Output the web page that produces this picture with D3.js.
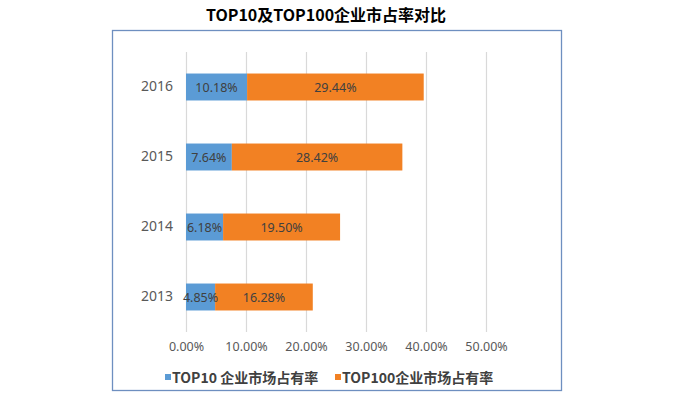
<!DOCTYPE html>
<html><head><meta charset="utf-8">
<script src="https://cdn.jsdelivr.net/npm/d3@7"></script>
<style>body{margin:0;background:#fff}svg{display:block}</style>
</head><body>
<script>
const title = "TOP10及TOP100企业市占率对比";
const years = ["2016", "2015", "2014", "2013"];
const top10 = [10.18, 7.64, 6.18, 4.85];
const top100 = [29.44, 28.42, 19.50, 16.28];
const seriesNames = ["TOP10 企业市场占有率", "TOP100企业市场占有率"];
const colors = ["#5B9BD5", "#F28123"];
const xTicks = [0, 10, 20, 30, 40, 50];

const W = 690, H = 400;
const svg = d3.select("body").append("svg").attr("width", W).attr("height", H);
const font = "'Noto Sans','Noto Sans CJK SC',sans-serif";

svg.append("text").attr("x", 326).attr("y", 21).attr("text-anchor", "middle")
  .attr("font-family", "'Noto Sans CJK SC','Noto Sans',sans-serif").attr("font-weight", "bold")
  .attr("font-size", 16).attr("fill", "#000").text(title);

svg.append("rect").attr("x", 112.5).attr("y", 30.5).attr("width", 449).attr("height", 360)
  .attr("fill", "none").attr("stroke", "#6E8FC0").attr("stroke-width", 1.3);

const x = d3.scaleLinear().domain([0, 50]).range([186, 486]);
const y = d3.scaleBand().domain(years).range([52, 332]).paddingInner(0.615).paddingOuter(0.3075);

const g = svg.append("g");
g.selectAll("line.grid").data(xTicks).enter().append("line")
  .attr("x1", d => Math.round(x(d)) + 0.5).attr("x2", d => Math.round(x(d)) + 0.5)
  .attr("y1", 52).attr("y2", 332).attr("stroke", "#D9D9D9").attr("stroke-width", 1.2);

const rows = years.map((yr, i) => ({yr, a: top10[i], b: top100[i]}));

g.selectAll("rect.a").data(rows).enter().append("rect")
  .attr("x", x(0)).attr("y", d => y(d.yr)).attr("width", d => x(d.a) - x(0))
  .attr("height", y.bandwidth()).attr("fill", colors[0]);
g.selectAll("rect.b").data(rows).enter().append("rect")
  .attr("x", d => x(d.a)).attr("y", d => y(d.yr)).attr("width", d => x(d.a + d.b) - x(d.a))
  .attr("height", y.bandwidth()).attr("fill", colors[1]);

g.selectAll("text.la").data(rows).enter().append("text")
  .attr("x", d => (x(0) + x(d.a)) / 2).attr("y", d => y(d.yr) + y.bandwidth() / 2 + 4.5)
  .attr("text-anchor", "middle").attr("font-family", font).attr("font-size", 12.5)
  .attr("fill", "#404040").text(d => d.a.toFixed(2) + "%");
g.selectAll("text.lb").data(rows).enter().append("text")
  .attr("x", d => (x(d.a) + x(d.a + d.b)) / 2).attr("y", d => y(d.yr) + y.bandwidth() / 2 + 4.5)
  .attr("text-anchor", "middle").attr("font-family", font).attr("font-size", 12.5)
  .attr("fill", "#404040").text(d => d.b.toFixed(2) + "%");

// y axis labels
const yAxis = d3.axisLeft(y).tickSize(0).tickPadding(13);
const ya = svg.append("g").attr("transform", `translate(${x(0)},0)`).call(yAxis);
ya.select(".domain").remove();
ya.selectAll("text").attr("font-family", font).attr("font-size", 14).attr("fill", "#595959");

// x axis labels
const xAxis = d3.axisBottom(x).tickValues(xTicks).tickSize(0).tickPadding(10).tickFormat(d => d.toFixed(2) + "%");
const xa = svg.append("g").attr("transform", "translate(0,332)").call(xAxis);
xa.select(".domain").remove();
xa.selectAll("text").attr("font-family", font).attr("font-size", 12.5).attr("fill", "#595959");

// legend
const legX = [165, 335];
seriesNames.forEach((n, i) => {
  svg.append("rect").attr("x", legX[i]).attr("y", 374).attr("width", 6).attr("height", 6).attr("fill", colors[i]);
  svg.append("text").attr("x", legX[i] + 7).attr("y", 383)
    .attr("font-family", "'Noto Sans CJK SC','Noto Sans',sans-serif").attr("font-weight", "bold")
    .attr("font-size", 14).attr("fill", "#404040").text(n);
});
</script>
</body></html>
